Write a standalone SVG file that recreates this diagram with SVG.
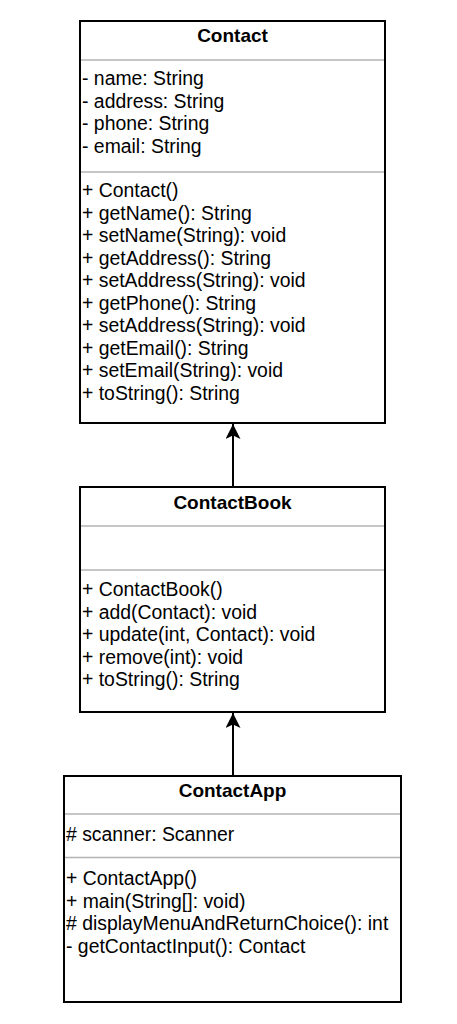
<svg xmlns="http://www.w3.org/2000/svg" width="457" height="1024" viewBox="0 0 457 1024">
<style>
.box{fill:#fff;stroke:#000;stroke-width:2}
.sep{stroke:#b3b3b3;stroke-width:1.5}
.t{font-family:"Liberation Sans",Arial,Helvetica,sans-serif;font-size:19.4px;fill:#000}
.h{font-family:"Liberation Sans",Arial,Helvetica,sans-serif;font-size:19px;font-weight:bold;fill:#000;text-anchor:middle}
.c{stroke:#000;stroke-width:2;fill:none}
</style>
<defs>
<marker id="arr" markerWidth="18" markerHeight="18" refX="15" refY="7.5" orient="auto" markerUnits="userSpaceOnUse">
<path d="M0,0 L15,7.5 L0,15 L3.5,7.5 Z" fill="#000"/>
</marker>
</defs>
<rect width="457" height="1024" fill="#fff"/>
<g id="Contact">
<rect class="box" x="80" y="21" width="305" height="402"/>
<text class="h" x="232.5" y="42">Contact</text>
<line class="sep" x1="81" y1="60" x2="384" y2="60"/>
<text class="t" x="82" y="85">- name: String</text>
<text class="t" x="82" y="107.5">- address: String</text>
<text class="t" x="82" y="130">- phone: String</text>
<text class="t" x="82" y="152.5">- email: String</text>
<line class="sep" x1="81" y1="172" x2="384" y2="172"/>
<text class="t" x="82" y="197">+ Contact()</text>
<text class="t" x="82" y="219.5">+ getName(): String</text>
<text class="t" x="82" y="242">+ setName(String): void</text>
<text class="t" x="82" y="264.5">+ getAddress(): String</text>
<text class="t" x="82" y="287">+ setAddress(String): void</text>
<text class="t" x="82" y="309.5">+ getPhone(): String</text>
<text class="t" x="82" y="332">+ setAddress(String): void</text>
<text class="t" x="82" y="354.5">+ getEmail(): String</text>
<text class="t" x="82" y="377">+ setEmail(String): void</text>
<text class="t" x="82" y="399.5">+ toString(): String</text>
</g>
<g id="ContactBook">
<rect class="box" x="80" y="487" width="305" height="225"/>
<text class="h" x="232.5" y="509">ContactBook</text>
<line class="sep" x1="81" y1="526" x2="384" y2="526"/>
<line class="sep" x1="81" y1="570" x2="384" y2="570"/>
<text class="t" x="82" y="596">+ ContactBook()</text>
<text class="t" x="82" y="618.5">+ add(Contact): void</text>
<text class="t" x="82" y="641">+ update(int, Contact): void</text>
<text class="t" x="82" y="663.5">+ remove(int): void</text>
<text class="t" x="82" y="686">+ toString(): String</text>
</g>
<g id="ContactApp">
<rect class="box" x="64" y="776" width="337" height="226"/>
<text class="h" x="232.5" y="797">ContactApp</text>
<line class="sep" x1="65" y1="814" x2="400" y2="814"/>
<text class="t" x="66" y="841">&#35; scanner: Scanner</text>
<line class="sep" x1="65" y1="857.5" x2="400" y2="857.5"/>
<text class="t" x="66" y="885">+ ContactApp()</text>
<text class="t" x="66" y="907.5">+ main(String[]: void)</text>
<text class="t" x="66" y="930">&#35; displayMenuAndReturnChoice(): int</text>
<text class="t" x="66" y="952.5">- getContactInput(): Contact</text>
</g>
<g id="connectors">
<line class="c" x1="233" y1="486" x2="233" y2="424" marker-end="url(#arr)"/>
<line class="c" x1="233" y1="775" x2="233" y2="713" marker-end="url(#arr)"/>
</g>
</svg>
